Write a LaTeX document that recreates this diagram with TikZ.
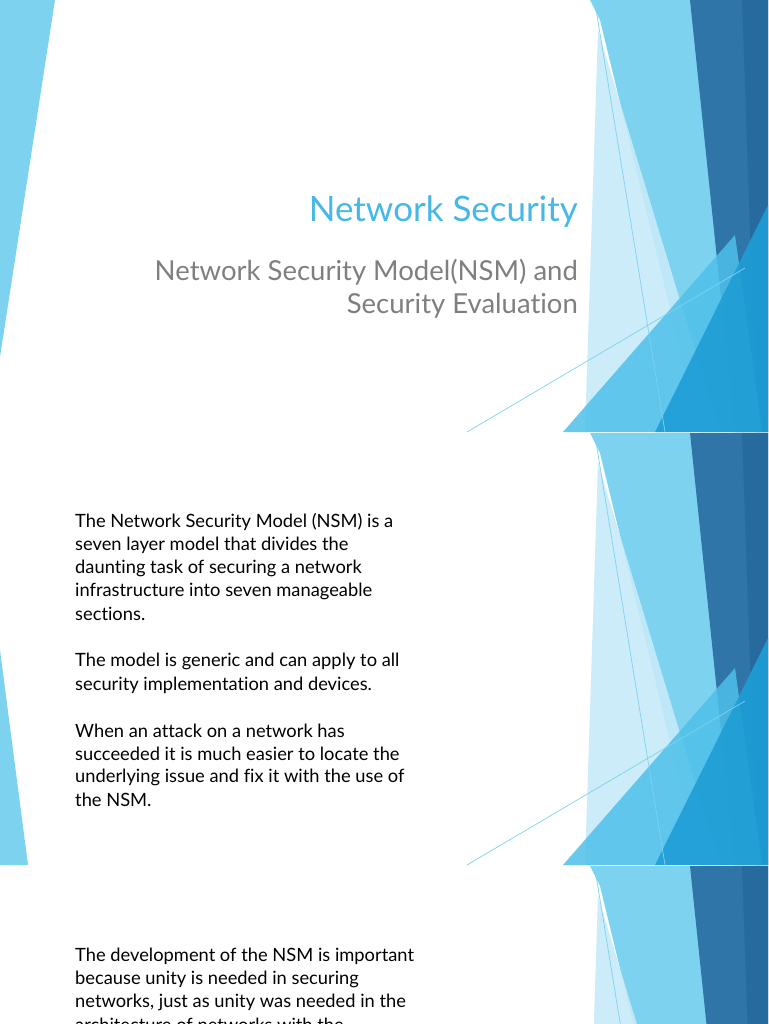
\documentclass[tikz,border=0pt]{standalone}
\usepackage{fontspec}
\setmainfont{Lato}[Ligatures={NoCommon}]
\definecolor{ttl}{HTML}{45B8E6}
\definecolor{sub}{HTML}{7F7F7F}
\definecolor{lb}{HTML}{7DD2F0}
\definecolor{db}{HTML}{2F75A8}
\definecolor{ddb}{HTML}{276A9E}
\definecolor{pale}{HTML}{C6EAF8}
\definecolor{mc}{HTML}{4EC0EA}
\definecolor{bc}{HTML}{1E9ED6}
\tikzset{body/.style={anchor=west,font=\fontsize{18.3}{21}\selectfont,inner sep=0pt}}
\newcommand{\deco}[1]{%
\begin{scope}[yshift=-#1]
\clip (0,0) rectangle (768,432);
\fill[lb] (590,0) -- (695,0) -- (760,432) -- (700,432) -- (600,20) -- cycle;
\fill[pale,opacity=0.9] (598,30) -- (720,432) -- (585,432) -- cycle;
\fill[db] (690,0) -- (768,0) -- (768,432) -- (735,432) -- cycle;
\fill[ddb] (742,0) -- (768,0) -- (768,432) -- (757,432) -- cycle;
\fill[mc,opacity=0.85] (563,432) -- (735,235) -- (762,432) -- cycle;
\fill[bc,opacity=0.9] (655,432) -- (768,205) -- (768,432) -- cycle;
\draw[lb,line width=0.7] (467,432) -- (745,268);
\draw[lb,line width=0.7] (595,3) -- (665,432);
\end{scope}}
\begin{document}
\begin{tikzpicture}[x=1pt,y=-1pt]
\useasboundingbox (0,0) rectangle (768,1024);
\fill[white] (0,0) rectangle (768,1024);
\deco{0}
\deco{433}
\deco{866}
\fill[lb] (0,0) -- (55,0) -- (0,357) -- cycle;
\fill[lb] (0,650) -- (28,865) -- (0,865) -- cycle;
\node[anchor=base east,text=ttl,font=\fontsize{35}{40}\selectfont,inner sep=0pt] (t) at (578,222) {Network Security};
\node[anchor=base east,text=sub,font=\fontsize{27.5}{30}\selectfont,inner sep=0pt] (s1) at (578,280) {Network Security Model(NSM) and};
\node[anchor=base east,text=sub,font=\fontsize{27.5}{30}\selectfont,inner sep=0pt] (s2) at (578,313) {Security Evaluation};
\node[body] (a1) at (75,522) {The Network Security Model (NSM) is a};
\node[body] (a2) at (75,545) {seven layer model that divides the};
\node[body] (a3) at (75,568) {daunting task of securing a network};
\node[body] (a4) at (75,591) {infrastructure into seven manageable};
\node[body] (a5) at (75,614) {sections.};
\node[body] (b1) at (75,661) {The model is generic and can apply to all};
\node[body] (b2) at (75,685) {security implementation and devices.};
\node[body] (c1) at (75,731) {When an attack on a network has};
\node[body] (c2) at (75,754) {succeeded it is much easier to locate the};
\node[body] (c3) at (75,777) {underlying issue and fix it with the use of};
\node[body] (c4) at (75,800) {the NSM.};
\node[body] (d1) at (75,956) {The development of the NSM is important};
\node[body] (d2) at (75,979) {because unity is needed in securing};
\node[body] (d3) at (75,1002) {networks, just as unity was needed in the};
\node[body] (d4) at (75,1025) {architecture of networks with the};
\end{tikzpicture}
\end{document}
